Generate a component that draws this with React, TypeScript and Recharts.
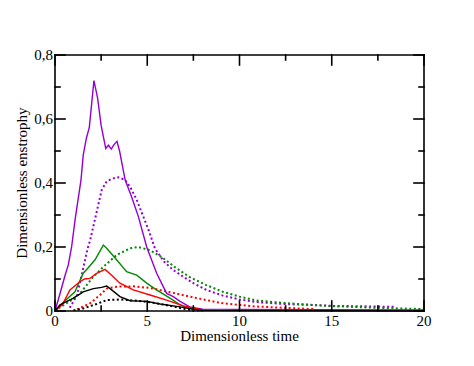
import { Line, LineChart, ReferenceLine, XAxis, YAxis } from "recharts";

type Pt = { t: number; v: number };

const pts = (rows: number[][]): Pt[] => rows.map(([t, v]) => ({ t, v }));

const xTicks = [0, 2.5, 5, 7.5, 10, 12.5, 15, 17.5, 20];
const yTicks = [0, 0.1, 0.2, 0.3, 0.4, 0.5, 0.6, 0.7, 0.8];

const violetSolid = pts([
  [0, 0], [0.2, 0.04], [0.54, 0.11], [0.72, 0.144], [0.9, 0.2], [1.1, 0.29],
  [1.41, 0.41], [1.53, 0.487], [1.7, 0.54], [1.86, 0.574], [2.11, 0.72],
  [2.31, 0.665], [2.5, 0.58], [2.75, 0.508], [2.9, 0.518], [3.05, 0.506],
  [3.2, 0.52], [3.36, 0.53], [3.5, 0.5], [3.8, 0.41], [4.15, 0.357],
  [4.52, 0.295], [4.97, 0.2], [5.51, 0.118], [6.05, 0.055], [6.41, 0.045],
  [6.78, 0.03], [7.3, 0.013], [8, 0.006], [10, 0.005], [14, 0.004], [20, 0.003],
]);

const violetDotted = pts([
  [0.8, 0.01], [1.2, 0.05], [1.59, 0.149], [1.77, 0.196], [1.9, 0.22],
  [2.26, 0.31], [2.53, 0.378], [2.8, 0.405], [3.1, 0.414], [3.43, 0.418],
  [3.79, 0.41], [4.1, 0.385], [4.43, 0.347], [5.06, 0.255], [5.42, 0.195],
  [5.9, 0.155], [6.41, 0.128], [6.95, 0.107], [7.5, 0.087], [8.2, 0.066],
  [9.1, 0.048], [10, 0.036], [10.9, 0.028], [12.4, 0.022], [15.1, 0.016],
  [18.4, 0.013],
]);

const greenSolid = pts([
  [0, 0], [0.5, 0.03], [1.08, 0.06], [1.53, 0.118], [1.8, 0.135],
  [2.17, 0.16], [2.62, 0.206], [2.8, 0.196], [3.34, 0.16], [3.88, 0.123],
  [4.43, 0.112], [4.97, 0.087], [5.5, 0.066], [6.23, 0.04], [6.78, 0.019],
  [7.3, 0.008], [8, 0.002], [9, 0.001],
]);

const greenDotted = pts([
  [0, 0], [0.3, 0.013], [0.8, 0.03], [1.36, 0.055], [2.08, 0.107],
  [2.62, 0.138], [3.34, 0.175], [4.07, 0.196], [4.52, 0.2], [5.15, 0.19],
  [5.8, 0.168], [6.5, 0.137], [7.3, 0.106], [8.2, 0.081], [9.1, 0.06],
  [10, 0.045], [10.9, 0.033], [12.4, 0.025], [15, 0.015], [18, 0.009],
  [20, 0.006],
]);

const redSolid = pts([
  [0, 0], [0.4, 0.02], [0.81, 0.066], [1.36, 0.092], [1.6, 0.1], [1.9, 0.102],
  [2.26, 0.118], [2.71, 0.13], [3.07, 0.112], [3.52, 0.087], [4.24, 0.066],
  [5.15, 0.05], [6.05, 0.034], [6.95, 0.016], [7.86, 0.005], [9, 0.001],
]);

const redDotted = pts([
  [1.2, 0.005], [1.9, 0.024], [2.44, 0.05], [2.8, 0.07], [3.34, 0.076],
  [4.24, 0.077], [5.15, 0.072], [6.05, 0.061], [7.3, 0.045], [8.2, 0.034],
  [9.1, 0.024], [10, 0.019], [10.9, 0.014], [12.4, 0.01], [14, 0.006],
]);

const blackSolid = pts([
  [0, 0], [0.27, 0.019], [1, 0.04], [1.53, 0.06], [2.08, 0.07], [2.53, 0.074],
  [2.8, 0.078], [3.07, 0.066], [3.52, 0.045], [4.07, 0.032], [4.97, 0.03],
  [5.7, 0.022], [6.78, 0.013], [7.5, 0.005], [8, 0.002], [20, 0],
]);

const blackDotted = pts([
  [1, 0.002], [1.53, 0.008], [2.26, 0.022], [2.8, 0.034], [3.52, 0.036],
  [4.43, 0.032], [5.33, 0.026], [6.23, 0.016], [7.14, 0.005], [8, 0.001],
]);

const FONT = '"Liberation Serif", "Times New Roman", Times, "DejaVu Serif", serif';

const W = 474;
const H = 366;
const MARGIN = { top: 55, right: 50, bottom: 0, left: 0 };
const X_AXIS_H = 55;
const Y_AXIS_W = 55;
// plot box size, used to mirror ticks / frame on the top and right edges
const PLOT_W = W - MARGIN.left - MARGIN.right - Y_AXIS_W;
const PLOT_H = H - MARGIN.top - MARGIN.bottom - X_AXIS_H;

const isMajorX = (v: number) => Math.abs(v % 5) < 1e-6;
const isMajorY = (v: number) => Math.round(v * 10) % 2 === 0;
const fmtY = (v: number) => (v === 0 ? "0" : v.toFixed(1).replace(".", ","));

const INK = { stroke: "#000", strokeWidth: 1.6, strokeLinecap: "square" as const };

function BottomTick({ x, y, payload }: any) {
  const len = isMajorX(payload.value) ? 10 : 5;
  const top = y - PLOT_H;
  return (
    <g>
      <path d={`M${x},${y}V${y - len}`} {...INK} fill="none" />
      <path d={`M${x},${top}V${top + len}`} {...INK} fill="none" />
      {isMajorX(payload.value) && (
        <text x={x} y={y + 15} textAnchor="middle" fontFamily={FONT} fontSize={15} fill="#000">
          {payload.value}
        </text>
      )}
    </g>
  );
}

function LeftTick({ x, y, payload }: any) {
  const v = payload.value;
  const len = isMajorY(v) ? 10 : 5;
  const right = x + PLOT_W;
  return (
    <g>
      <path d={`M${x},${y}H${x + len}`} {...INK} fill="none" />
      <path d={`M${right},${y}H${right - len}`} {...INK} fill="none" />
      {/* frame: top edge drawn with the last tick, right edge with the first */}
      {v === 0.8 && <path d={`M${x},${y}H${right}`} {...INK} fill="none" />}
      {v === 0 && <path d={`M${right},${y}V${y - PLOT_H}`} {...INK} fill="none" />}
      {isMajorY(v) && (
        <text x={x - 2} y={y + 5} textAnchor="end" fontFamily={FONT} fontSize={15} fill="#000">
          {fmtY(v)}
        </text>
      )}
    </g>
  );
}

const series = [
  { data: violetDotted, color: "#9400d3", dotted: true },
  { data: greenDotted, color: "#008b00", dotted: true },
  { data: redDotted, color: "#ff0000", dotted: true },
  { data: blackDotted, color: "#000000", dotted: true },
  { data: violetSolid, color: "#9400d3", dotted: false },
  { data: greenSolid, color: "#008b00", dotted: false },
  { data: redSolid, color: "#ff0000", dotted: false },
  { data: blackSolid, color: "#000000", dotted: false },
];

const frame = { xAxisId: "b", yAxisId: "l", stroke: "#000", strokeWidth: 1.6, ifOverflow: "visible" as const };

export default function App() {
  return (
    <div style={{ position: "absolute", left: 0, top: 0, background: "#fff" }}>
      <LineChart width={W} height={H} margin={MARGIN}>
        <XAxis
          xAxisId="b"
          type="number"
          dataKey="t"
          domain={[0, 20]}
          ticks={xTicks}
          interval={0}
          height={X_AXIS_H}
          tickSize={0}
          tickMargin={0}
          axisLine={false}
          tickLine={false}
          tick={<BottomTick />}
          label={{
            value: "Dimensionless time",
            position: "insideBottom",
            offset: 25,
            fontFamily: FONT,
            fontSize: 15,
            fill: "#000",
          }}
        />
        <YAxis
          yAxisId="l"
          type="number"
          domain={[0, 0.8]}
          ticks={yTicks}
          interval={0}
          width={Y_AXIS_W}
          tickSize={0}
          tickMargin={0}
          axisLine={false}
          tickLine={false}
          tick={<LeftTick />}
          label={{
            value: "Dimensionless enstrophy",
            angle: -90,
            position: "insideLeft",
            offset: 22,
            fontFamily: FONT,
            fontSize: 15,
            fill: "#000",
            style: { textAnchor: "middle" },
          }}
        />
        <ReferenceLine {...frame} y={0} />
        <ReferenceLine {...frame} x={0} />
        {series.map((s, i) => (
          <Line
            key={i}
            xAxisId="b"
            yAxisId="l"
            data={s.data}
            dataKey="v"
            type="linear"
            stroke={s.color}
            strokeWidth={s.dotted ? 2 : 1.4}
            strokeDasharray={s.dotted ? "2 2.5" : undefined}
            dot={false}
            activeDot={false}
            isAnimationActive={false}
          />
        ))}
      </LineChart>
    </div>
  );
}
